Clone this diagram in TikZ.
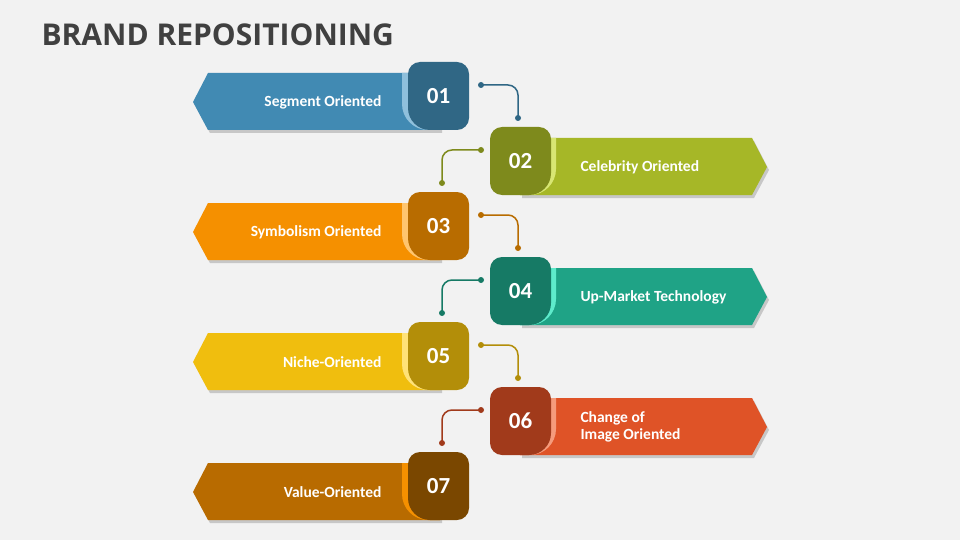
\documentclass[tikz,border=0pt]{standalone}
\usepackage{fontspec}
\setmainfont{Carlito}
\newfontfamily\titlefont{Open Sans}
\definecolor{bg}{HTML}{F2F2F2}
\definecolor{bA}{HTML}{418AB3}\definecolor{xA}{HTML}{306785}\definecolor{sA}{HTML}{8FC0DC}
\definecolor{bB}{HTML}{A6B727}\definecolor{xB}{HTML}{7E8A1C}\definecolor{sB}{HTML}{D8E673}
\definecolor{bC}{HTML}{F59000}\definecolor{xC}{HTML}{B86C00}\definecolor{sC}{HTML}{FFC56E}
\definecolor{bD}{HTML}{1FA386}\definecolor{xD}{HTML}{167A65}\definecolor{sD}{HTML}{5EEBCB}
\definecolor{bE}{HTML}{F0BE0E}\definecolor{xE}{HTML}{B38E09}\definecolor{sE}{HTML}{FFE277}
\definecolor{bF}{HTML}{DF5327}\definecolor{xF}{HTML}{A13A1B}\definecolor{sF}{HTML}{F59B7C}
\definecolor{bG}{HTML}{B86B00}\definecolor{xG}{HTML}{7A4700}\definecolor{sG}{HTML}{F59000}
\tikzset{
 lbl/.style={text=white,font=\fontsize{15.5}{17}\selectfont\bfseries},
 num/.style={text=white,font=\fontsize{23}{25}\selectfont\bfseries},
 conn/.style={line width=1.5pt,rounded corners=10pt}
}
\begin{document}
\begin{tikzpicture}[x=1pt,y=-1pt]
\fill[bg] (0,0) rectangle (960,540);
\useasboundingbox (0,0) rectangle (960,540);
\node[anchor=west,text=black!75,font=\titlefont\fontsize{30}{32}\selectfont\bfseries] (title) at (38,35) {BRAND REPOSITIONING};
\foreach \k/\c/\t/\side in {1/A/{Segment Oriented}/l,2/B/{Celebrity Oriented}/r,3/C/{Symbolism Oriented}/l,4/D/{Up-Market Technology}/r,5/E/{Niche-Oriented}/l,6/F/{Change of\\Image Oriented}/r,7/G/{Value-Oriented}/l}{
 \pgfmathsetmacro{\T}{62+65*(\k-1)}
 \if\side l
  \fill[black!22,xshift=2pt,yshift=-3pt] (440,\T+11) -- (208,\T+11) -- (193,\T+40) -- (208,\T+68) -- (440,\T+68) -- cycle;
  \fill[b\c] (440,\T+11) -- (208,\T+11) -- (193,\T+40) -- (208,\T+68) -- (440,\T+68) -- cycle;
  \fill[s\c] (440,\T+11) -- (402,\T+11) [rounded corners=26pt] -- (402,\T+68) [sharp corners] -- (440,\T+68) -- cycle;
  \fill[x\c] (408,\T+30) [rounded corners=12pt] -- (408,\T) -- (469,\T) -- (469,\T+68) [rounded corners=22pt] -- (408,\T+68) [sharp corners] -- cycle;
  \node[lbl,anchor=east,align=right] (t\k) at (385,\T+40) {\t};
  \node[num] (n\k) at (438.5,\T+34) {0\k};
  \ifnum\k<7
   \coordinate (a\k) at (481,\T+23);
   \coordinate (b\k) at (518,\T+56);
   \draw[conn,x\c] (a\k) -- (518,\T+23) -- (b\k);
   \fill[x\c] (a\k) circle (3pt) (b\k) circle (3pt);
  \fi
 \else
  \fill[black!22,xshift=2pt,yshift=-3pt] (520,\T+11) -- (752,\T+11) -- (767,\T+40) -- (752,\T+68) -- (520,\T+68) -- cycle;
  \fill[b\c] (520,\T+11) -- (752,\T+11) -- (767,\T+40) -- (752,\T+68) -- (520,\T+68) -- cycle;
  \fill[s\c] (520,\T+11) -- (556,\T+11) [rounded corners=26pt] -- (556,\T+68) [sharp corners] -- (520,\T+68) -- cycle;
  \fill[x\c] (551,\T+30) [rounded corners=12pt] -- (551,\T) -- (490,\T) -- (490,\T+68) [rounded corners=22pt] -- (551,\T+68) [sharp corners] -- cycle;
  \node[lbl,anchor=west,align=left] (t\k) at (577,\T+40) {\t};
  \node[num] (n\k) at (520.5,\T+34) {0\k};
  \coordinate (a\k) at (481,\T+23);
  \coordinate (b\k) at (442,\T+56);
  \draw[conn,x\c] (a\k) -- (442,\T+23) -- (b\k);
  \fill[x\c] (a\k) circle (3pt) (b\k) circle (3pt);
 \fi
}
\end{tikzpicture}
\end{document}
